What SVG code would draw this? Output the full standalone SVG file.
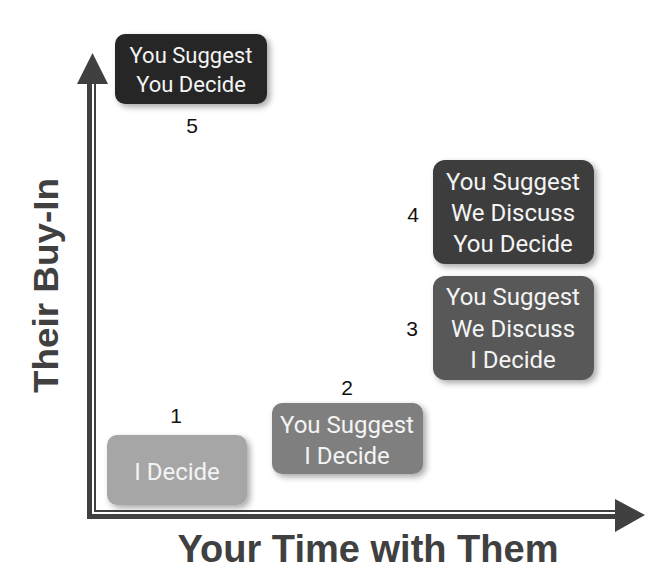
<svg xmlns="http://www.w3.org/2000/svg" width="661" height="584" viewBox="0 0 661 584">
<defs>
<filter id="sh" x="-20%" y="-20%" width="140%" height="150%">
<feDropShadow dx="3" dy="3" stdDeviation="3" flood-color="#000" flood-opacity="0.35"/>
</filter>
</defs>
<style>
.box{filter:url(#sh)}
.t{font-family:Roboto,"Liberation Sans",sans-serif;font-size:24px;fill:#f4f4f4;text-anchor:middle}
.t5{font-size:22px}
.n{font-family:"Liberation Sans",Arial,sans-serif;font-size:21px;fill:#111;text-anchor:middle}
.ax{font-family:"Liberation Sans",Arial,sans-serif;font-weight:bold;fill:#404040;text-anchor:middle}
</style>
<rect width="661" height="584" fill="#fff"/>
<g id="connectors" fill="#404040" stroke="none">
<rect x="87" y="80" width="5" height="439"/>
<rect x="94" y="80" width="2" height="432"/>
<rect x="94" y="510" width="524" height="2"/>
<rect x="87" y="514" width="531" height="5"/>
<polygon points="77,84 108,84 92.5,53"/>
<polygon points="615,499 615,532 645,515"/>
</g>
<g id="node1">
<rect class="box" x="107" y="435" width="140" height="70" rx="10" fill="#a6a6a6"/>
<text class="t" x="177" y="480">I Decide</text>
<text class="n" x="176" y="423">1</text>
</g>
<g id="node2">
<rect class="box" x="272" y="403" width="151" height="71" rx="10" fill="#7f7f7f"/>
<text class="t" x="347" y="433">You Suggest</text>
<text class="t" x="347" y="464">I Decide</text>
<text class="n" x="347" y="395">2</text>
</g>
<g id="node3">
<rect class="box" x="433" y="276" width="161" height="104" rx="12" fill="#595959"/>
<text class="t" x="513" y="305">You Suggest</text>
<text class="t" x="513" y="337">We Discuss</text>
<text class="t" x="513" y="368">I Decide</text>
<text class="n" x="412" y="336">3</text>
</g>
<g id="node4">
<rect class="box" x="433" y="160" width="161" height="104" rx="12" fill="#3d3d3d"/>
<text class="t" x="513" y="190">You Suggest</text>
<text class="t" x="513" y="221">We Discuss</text>
<text class="t" x="513" y="252">You Decide</text>
<text class="n" x="413" y="222">4</text>
</g>
<g id="node5">
<rect class="box" x="115" y="34" width="152" height="70" rx="10" fill="#262626"/>
<text class="t t5" x="191" y="63">You Suggest</text>
<text class="t t5" x="191" y="92">You Decide</text>
<text class="n" x="192" y="133">5</text>
</g>
<g id="labels">
<text class="ax" x="368" y="562" font-size="39" textLength="381" lengthAdjust="spacingAndGlyphs">Your Time with Them</text>
<text class="ax" transform="translate(58,285.5) rotate(-90)" x="0" y="0" font-size="35" textLength="215" lengthAdjust="spacingAndGlyphs">Their Buy-In</text>
</g>
</svg>
